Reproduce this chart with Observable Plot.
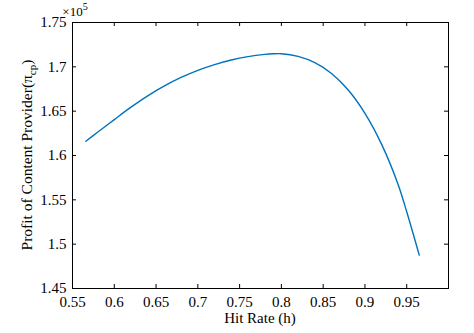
<!DOCTYPE html>
<html>
<head>
<meta charset="utf-8">
<script src="https://cdn.jsdelivr.net/npm/d3@7"></script>
<script src="https://cdn.jsdelivr.net/npm/@observablehq/plot@0.6"></script>
<style>
  html, body { margin: 0; padding: 0; background: #fff; }
  #chart svg { display: block; }
</style>
</head>
<body>
<div id="chart"></div>
<script>
// Hit rate (h)
const hitRate = [0.566, 0.58, 0.60, 0.62, 0.64, 0.66, 0.68, 0.70, 0.72, 0.74, 0.76, 0.78, 0.79, 0.80, 0.82, 0.84, 0.86, 0.88, 0.90, 0.92, 0.94, 0.95, 0.965];
// Profit of content provider, in units of 10^5
const profit = [1.6160, 1.6262, 1.6405, 1.6545, 1.6673, 1.6785, 1.6880, 1.6960, 1.7025, 1.7077, 1.7115, 1.7140, 1.7147, 1.7148, 1.7118, 1.7047, 1.6925, 1.6738, 1.6475, 1.6125, 1.5665, 1.5365, 1.4876];
const xTicks = [0.55, 0.6, 0.65, 0.7, 0.75, 0.8, 0.85, 0.9, 0.95];
const yTicks = [1.45, 1.5, 1.55, 1.6, 1.65, 1.7, 1.75];
const xTickLabels = ["0.55", "0.6", "0.65", "0.7", "0.75", "0.8", "0.85", "0.9", "0.95"];
const yTickLabels = ["1.45", "1.5", "1.55", "1.6", "1.65", "1.7", "1.75"];
const xLabel = "Hit Rate (h)";
const yLabelMain = "Profit of Content Provider(π";
const yLabelSub = "cp";
const yLabelEnd = ")";
const exponentBase = "×10";
const exponent = "5";

const data = hitRate.map((h, i) => ({h, p: profit[i]}));

const W = 474, H = 333;
const mL = 72, mR = 26, mT = 22, mB = 45;
const plotW = W - mL - mR, plotH = H - mT - mB;
const tickLen = 4;
const font = "'Liberation Serif', 'Times New Roman', serif";

const chart = Plot.plot({
  width: W,
  height: H,
  marginLeft: mL,
  marginRight: mR,
  marginTop: mT,
  marginBottom: mB,
  style: {fontSize: "15px", color: "#000", background: "#fff"},
  x: {domain: [0.55, 1.0]},
  y: {domain: [1.45, 1.75]},
  marks: [
    Plot.line(data, {x: "h", y: "p", stroke: "#0072BD", strokeWidth: 1.4, curve: "catmull-rom"}),
    // inward ticks (bottom, top, left, right)
    Plot.tickX(xTicks, {x: d => d, stroke: "#000", strokeWidth: 1, insetTop: plotH - tickLen}),
    Plot.tickX(xTicks, {x: d => d, stroke: "#000", strokeWidth: 1, insetBottom: plotH - tickLen}),
    Plot.tickY(yTicks, {y: d => d, stroke: "#000", strokeWidth: 1, insetRight: plotW - tickLen}),
    Plot.tickY(yTicks, {y: d => d, stroke: "#000", strokeWidth: 1, insetLeft: plotW - tickLen}),
    Plot.frame({stroke: "#000", strokeWidth: 1}),
    Plot.axisX(xTicks, {tickSize: 0, tickPadding: 8, tickFormat: (d, i) => xTickLabels[i], label: null, fontSize: 15, fill: "#000"}),
    Plot.axisY(yTicks, {tickSize: 0, tickPadding: 6, tickFormat: (d, i) => yTickLabels[i], label: null, fontSize: 15, fill: "#000"})
  ]
});

document.getElementById("chart").appendChild(chart);

const svg = d3.select(chart);
const xs = chart.scale("x"), ys = chart.scale("y");
const cx = (xs.apply(0.55) + xs.apply(1.0)) / 2;
const cy = (ys.apply(1.45) + ys.apply(1.75)) / 2;

svg.append("text")
  .attr("x", cx).attr("y", H - 10)
  .attr("text-anchor", "middle")
  .attr("font-size", 15).attr("fill", "#000")
  .text(xLabel);

const yl = svg.append("text")
  .attr("transform", `translate(32,${cy}) rotate(-90)`)
  .attr("text-anchor", "middle")
  .attr("font-size", 15.5).attr("fill", "#000");
yl.append("tspan").text(yLabelMain);
yl.append("tspan").attr("font-size", 11).attr("dy", 4).text(yLabelSub);
yl.append("tspan").attr("dy", -4).text(yLabelEnd);

const ex = svg.append("text")
  .attr("x", xs.apply(0.55) + 3).attr("y", 16)
  .attr("font-size", 13).attr("fill", "#000");
ex.append("tspan").text(exponentBase);
ex.append("tspan").attr("font-size", 10).attr("dy", -6).text(exponent);

// force the serif face on every text, including the axis tick labels
svg.style("font-family", font);
svg.selectAll("g").style("font-family", font);
svg.selectAll("text").style("font-family", font);
</script>
</body>
</html>
